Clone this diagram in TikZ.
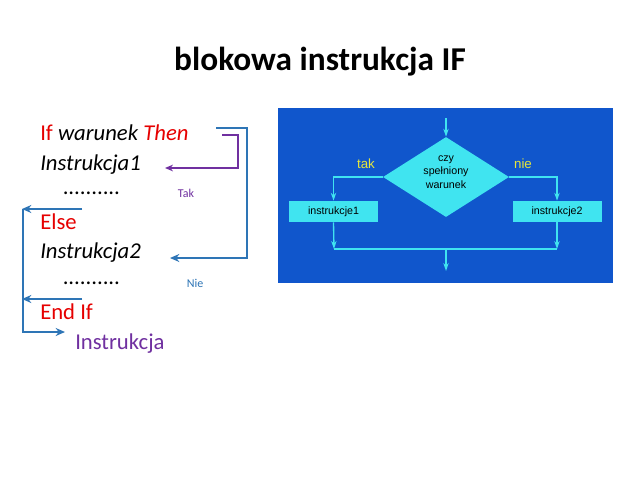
\documentclass[tikz,border=0pt]{standalone}
\usepackage{fontspec}
\setmainfont{Carlito}
\newfontfamily\arialf{Liberation Sans}
\usetikzlibrary{arrows.meta,shapes.geometric}
\definecolor{kred}{RGB}{230,0,0}
\definecolor{kpur}{RGB}{112,48,160}
\definecolor{kblu}{RGB}{46,117,182}
\definecolor{panel}{RGB}{16,86,204}
\definecolor{kcyan}{RGB}{64,228,240}
\definecolor{kyel}{RGB}{230,230,60}
\begin{document}
\begin{tikzpicture}[x=0.75pt,y=-0.75pt,
  code/.style={anchor=west,inner sep=0pt,font=\fontsize{17}{20}\selectfont},
  arr/.style={line width=1.6pt,-{Stealth[length=7pt,width=6pt]}},
  fl/.style={kcyan,line width=1pt},
  fla/.style={fl,-{Stealth[length=6pt,width=4pt]}},
  box/.style={fill=kcyan,minimum width=89*0.75pt,minimum height=21*0.75pt,inner sep=0pt,font=\arialf\fontsize{8}{9}\selectfont}]
\useasboundingbox (0,0) rectangle (638,478);
\fill[white] (0,0) rectangle (638,478);
\node[font=\bfseries\fontsize{25}{30}\selectfont] (title) at (320,62) {blokowa instrukcja IF};
% code
\node[code] (l1) at (40,133) {\textcolor{kred}{If} \textit{warunek} \textcolor{kred}{\textit{Then}}};
\node[code] (l2) at (40,165) {\textit{Instrukcja1}};
\node[code] (l3) at (63,193) {\textit{..........}};
\node[code,text=kred] (l4) at (40,222) {Else};
\node[code] (l5) at (40,253) {\textit{Instrukcja2}};
\node[code] (l6) at (63,283) {\textit{..........}};
\node[code,text=kred] (l7) at (40,312) {End If};
\node[code,text=kpur] (l8) at (75,344) {Instrukcja};
\node[font=\fontsize{9}{10}\selectfont,text=kpur] (tak) at (186,193) {Tak};
\node[font=\fontsize{9}{10}\selectfont,text=kblu] (nie) at (195,283) {Nie};
\coordinate (pb0) at (222,135); \coordinate (pe) at (165,168);
\draw[kpur,line width=1.2pt,-{Stealth[length=6pt,width=5pt]}] (pb0) -- (238,135) -- (238,168) -- (pe);
\coordinate (bb0) at (216,128); \coordinate (be) at (170,258);
\draw[arr,kblu] (bb0) -- (247,128) -- (247,258) -- (be);
\coordinate (e0) at (82,209); \coordinate (e1) at (22,209);
\draw[arr,kblu] (e0) -- (e1);
\coordinate (f0) at (82,299); \coordinate (f1) at (22,299);
\draw[arr,kblu] (f0) -- (f1);
\coordinate (g1) at (65,332);
\draw[arr,kblu] (23,209) -- (23,332) -- (g1);
% panel
\fill[panel] (278,108) rectangle (613,283);
\node[diamond,fill=kcyan,inner sep=0pt,minimum width=126*0.75pt,minimum height=80*0.75pt] (d) at (446,177) {};
\node[font=\arialf\fontsize{8}{10}\selectfont,align=center] (dt) at (446,172) {czy\\spełniony\\warunek};
\node[box] (b1) at (333.5,211.5) {instrukcje1};
\node[box] (b2) at (557,211.5) {instrukcje2};
\coordinate (in) at (446,118);
\draw[fla] (in) -- (d.north);
\draw[fla] (d.west) -| (b1.north);
\draw[fla] (d.east) -| (b2.north);
\draw[fla] (b1.south) -- (334,249);
\draw[fla] (b2.south) -- (557,249);
\draw[fl] (334,249) -- (557,249);
\coordinate (out) at (446,271);
\draw[fla] (446,249) -- (out);
\node[text=kyel,font=\arialf\fontsize{10}{12}\selectfont] (tk) at (366,164) {tak};
\node[text=kyel,font=\arialf\fontsize{10}{12}\selectfont] (nk) at (523,164) {nie};
\end{tikzpicture}
\end{document}
